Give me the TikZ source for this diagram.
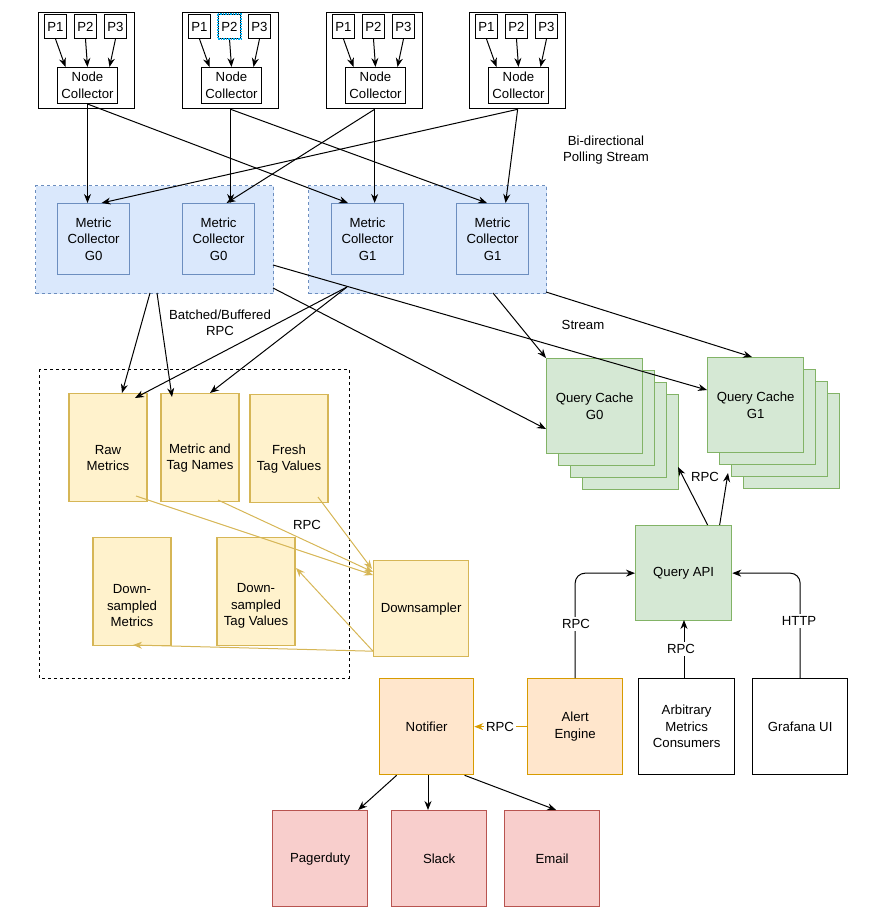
\documentclass[tikz,border=0pt]{standalone}
\usepackage{fontspec}
\setmainfont{Liberation Sans}
\usetikzlibrary{shapes.geometric,arrows.meta,calc}
\definecolor{bfill}{HTML}{DAE8FC}\definecolor{bdraw}{HTML}{6C8EBF}
\definecolor{yfill}{HTML}{FFF2CC}\definecolor{ydraw}{HTML}{D6B656}
\definecolor{gfill}{HTML}{D5E8D4}\definecolor{gdraw}{HTML}{82B366}
\definecolor{ofill}{HTML}{FFE6CC}\definecolor{odraw}{HTML}{D79B00}
\definecolor{rfill}{HTML}{F8CECC}\definecolor{rdraw}{HTML}{B85450}
\begin{document}
\begin{tikzpicture}[x=1pt,y=-1pt,
  every node/.style={font=\fontsize{13.2}{16.5}\selectfont,align=center,inner sep=0pt},
  arr/.style={-{Stealth[length=9pt,width=7pt]},line width=1pt},
  yarr/.style={-{Stealth[length=9pt,width=7pt]},draw=ydraw,line width=1pt},
  cyl/.style={cylinder,shape border rotate=90,aspect=1.1,draw=ydraw,fill=yfill,line width=1.2pt,minimum width=78pt,minimum height=108pt},
  mc/.style={draw=bdraw,fill=bfill,line width=1.2pt,minimum width=72pt,minimum height=71pt},
  qc/.style={draw=gdraw,fill=gfill,line width=1.3pt,minimum width=96pt,minimum height=95pt},
  lbl/.style={fill=white,inner sep=2pt}]
\useasboundingbox (0,0) rectangle (869,919);
% hosts
\foreach \h/\x in {1/38,2/182,3/326,4/469}{
  \node[draw,line width=1.3pt,minimum width=96pt,minimum height=96pt,anchor=north west] (H\h) at (\x,12) {};
  \node[draw,line width=1pt,minimum width=22pt,minimum height=24pt,anchor=north west] (P\h a) at (\x+6,14) {P1};
  \node[draw,line width=1pt,minimum width=22pt,minimum height=24pt,anchor=north west] (P\h b) at (\x+36,14) {P2};
  \node[draw,line width=1pt,minimum width=22pt,minimum height=24pt,anchor=north west] (P\h c) at (\x+66,14) {P3};
  \node[draw,line width=1pt,minimum width=60pt,minimum height=36pt,anchor=north west] (N\h) at (\x+19,67) {Node\\Collector};
  \draw[arr] (P\h a.south) -- ($(N\h.north)+(-22,0)$);
  \draw[arr] (P\h b.south) -- (N\h.north);
  \draw[arr] (P\h c.south) -- ($(N\h.north)+(22,0)$);
}
\draw[cyan,densely dotted,line width=1.5pt] (P2b.north west) rectangle (P2b.south east);
% groups
\node[draw=bdraw,fill=bfill,dashed,line width=1pt,minimum width=238pt,minimum height=108pt,anchor=north west] (GA) at (35,185) {};
\node[draw=bdraw,fill=bfill,dashed,line width=1pt,minimum width=238pt,minimum height=108pt,anchor=north west] (GB) at (308,185) {};
\node[mc,anchor=north west] (M1) at (57,203) {Metric\\Collector\\G0};
\node[mc,anchor=north west] (M2) at (182,203) {Metric\\Collector\\G0};
\node[mc,anchor=north west] (M3) at (331,203) {Metric\\Collector\\G1};
\node[mc,anchor=north west] (M4) at (456,203) {Metric\\Collector\\G1};
\draw[arr] (N1.south) -- (M1.north-|N1.south);
\draw[arr] (N1.south) -- ($(M3.north west)+(17,0)$);
\draw[arr] (H2.south) -- (M2.north-|H2.south);
\draw[arr] (H2.south) -- ($(M4.north west)+(31,0)$);
\draw[arr] (H3.south) -- ($(M2.north)+(8,0)$);
\draw[arr] (H3.south) -- (M3.north-|H3.south);
\draw[arr] (H4.south) -- ($(M1.north)+(8,0)$);
\draw[arr] (H4.south) -- ($(M4.north)+(13,0)$);
\node at (606,150) {Bi-directional\\Polling Stream};
% storage
\draw[dashed,line width=1pt] (39,369) rectangle (349,678);
\node[cyl,anchor=north] (RM) at (108,393) {};
\node[cyl,anchor=north] (MT) at (200,393) {};
\node[cyl,anchor=north] (FT) at (289,394) {};
\node[cyl,anchor=north] (DM) at (132,537) {};
\node[cyl,anchor=north] (DT) at (256,537) {};
\node (tRM) at (108,458) {Raw\\Metrics};
\node (tMT) at (200,458) {Metric and\\Tag Names};
\node (tFT) at (289,459) {Fresh\\Tag Values};
\node (tDM) at (132,606) {Down-\\sampled\\Metrics};
\node (tDT) at (256,606) {Down-\\sampled\\Tag Values};
\node[draw=ydraw,fill=yfill,line width=1.2pt,minimum width=95pt,minimum height=96pt,anchor=north west] (DS) at (373,560) {Downsampler};
\coordinate (ga1) at (150,293); \coordinate (ga2) at (157,293);
\coordinate (gb1) at (347,287);
\draw[arr] (ga1) -- (122,393);
\draw[arr] (ga2) -- (172,397);
\draw[arr] (gb1) -- (135,398);
\draw[arr] (gb1) -- (210,393);
\node at (220,323) {Batched/Buffered\\RPC};
\draw[yarr] (136,496) -- ($(DS.north west)+(0,15)$);
\draw[yarr] (218,500) -- ($(DS.north west)+(0,12)$);
\draw[yarr] (318,497) -- ($(DS.north west)+(-1,9)$);
\draw[yarr] ($(DS.south west)+(0,-6)$) -- (296,568);
\draw[yarr] ($(DS.south west)+(0,-6)$) -- (133,645);
\node at (307,525) {RPC};
% query caches
\foreach \k in {3,2,1}{
  \node[qc,anchor=north west] at (546+12*\k,358+12*\k) {};
  \node[qc,anchor=north west] at (707+12*\k,357+12*\k) {};}
\node[qc,anchor=north west] (QA) at (546,358) {Query Cache\\G0};
\node[qc,anchor=north west] (QB) at (707,357) {Query Cache\\G1};
\draw[arr] (273,265) -- (707,390);
\draw[arr] (273,288) -- (546,429);
\draw[arr] (493,293) -- (QA.north west);
\draw[arr] (546,292) -- (752,357);
\node at (583,325) {Stream};
% query api
\node[draw=gdraw,fill=gfill,line width=1.3pt,minimum width=96pt,minimum height=95pt,anchor=north west] (API) at (635,525) {Query API};
\draw[arr] ($(API.north)+(24,0)$) -- (678,467);
\draw[arr] ($(API.north)+(36,0)$) -- (728,473);
\node at (705,477) {RPC};
\node[draw=odraw,fill=ofill,line width=1.3pt,minimum width=95pt,minimum height=96pt,anchor=north west] (AE) at (527,678) {Alert\\Engine};
\node[draw,line width=1.3pt,minimum width=96pt,minimum height=96pt,anchor=north west] (AM) at (638,678) {Arbitrary\\Metrics\\Consumers};
\node[draw,line width=1.3pt,minimum width=95pt,minimum height=96pt,anchor=north west] (GF) at (752,678) {Grafana UI};
\draw[arr,rounded corners=10pt] (AE.north) -- (AE.north|-API.west) -- (API.west);
\node[lbl] at (576,624) {RPC};
\draw[arr] (AM.north-|684,0) -- (684,620);
\node[lbl] at (681,649) {RPC};
\draw[arr,rounded corners=10pt] (GF.north) -- (GF.north|-API.east) -- (API.east);
\node[lbl] at (799,621) {HTTP};
% notifier
\node[draw=odraw,fill=ofill,line width=1.3pt,minimum width=94pt,minimum height=96pt,anchor=north west] (NO) at (379,678) {Notifier};
\draw[-{Stealth[length=9pt,width=7pt]},draw=odraw,line width=1pt] (AE.west) -- (NO.east);
\node[lbl] at (500,727) {RPC};
\node[draw=rdraw,fill=rfill,line width=1.3pt,minimum width=95pt,minimum height=96pt,anchor=north west] (PD) at (272,810) {Pagerduty};
\node[draw=rdraw,fill=rfill,line width=1.3pt,minimum width=95pt,minimum height=96pt,anchor=north west] (SL) at (391,810) {Slack};
\node[draw=rdraw,fill=rfill,line width=1.3pt,minimum width=95pt,minimum height=96pt,anchor=north west] (EM) at (504,810) {Email};
\draw[arr] ($(NO.south)+(-30,0)$) -- ($(PD.north)+(38,0)$);
\draw[arr] (NO.south-|428,0) -- (SL.north-|428,0);
\draw[arr] ($(NO.south)+(38,0)$) -- ($(EM.north)+(4,0)$);
\end{tikzpicture}
\end{document}
